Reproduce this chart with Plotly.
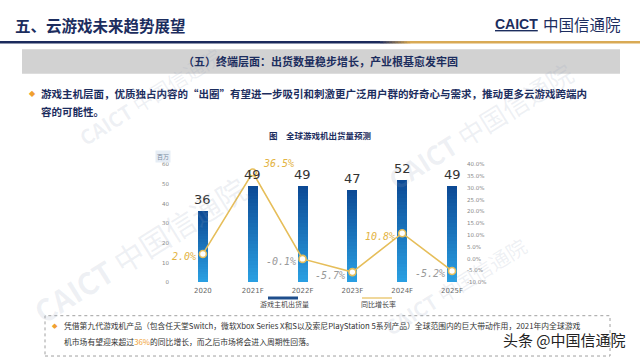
import plotly.graph_objects as go

# ---------------- data ----------------
categories = ["2020", "2021F", "2022F", "2023F", "2024F", "2025F"]
shipments = [36, 49, 49, 47, 52, 49]          # 百万台
growth = [2.0, 36.5, -0.1, -5.7, 10.8, -5.2]  # 同比增长率 %
left_ticks = [0, 10, 20, 30, 40, 50, 60]
right_ticks = [-10, -5, 0, 5, 10, 15, 20, 25, 30, 35, 40]

W, H = 640, 360
CJK = "Noto Sans CJK SC"
NAVY = "#1C2D5E"
GOLD = "#E6BE5A"


def px(x):
    return x / W


def py(y):
    return 1 - y / H


def lerp(c1, c2, t):
    a = [int(c1[i:i + 2], 16) for i in (1, 3, 5)]
    b = [int(c2[i:i + 2], 16) for i in (1, 3, 5)]
    return "rgb(%d,%d,%d)" % tuple(round(a[k] + (b[k] - a[k]) * t) for k in range(3))


def txt(x, y, text, size, color, family=CJK, xa="center", ya="middle", **kw):
    d = dict(x=px(x), y=py(y), xref="paper", yref="paper", text=text, showarrow=False,
             xanchor=xa, yanchor=ya, font=dict(family=family, size=size, color=color))
    d.update(kw)
    return d


fig = go.Figure()

# gradient bars: each bar split into stacked slices of its own value
N = 28
bottom_c, top_c = "#2A9FE2", "#0C4A95"
for k in range(N):
    fig.add_trace(go.Bar(
        x=categories, y=[v / N for v in shipments],
        marker=dict(color=lerp(bottom_c, top_c, k / (N - 1)), line=dict(width=0)),
        width=0.2, showlegend=False, hoverinfo="skip"))

fig.add_trace(go.Scatter(
    x=categories, y=growth, yaxis="y2", mode="lines+markers",
    line=dict(color=GOLD, width=1.6),
    marker=dict(size=7, color="white", line=dict(color=GOLD, width=1.6)),
    showlegend=False, hoverinfo="skip"))

ann = []
shapes = []

# value labels on bars (x given as category index)
for i, v in enumerate(shipments):
    ann.append(dict(x=i, y=v, xref="x", yref="y", text=str(v), showarrow=False,
                    xanchor="center", yanchor="bottom", yshift=2,
                    font=dict(family="DejaVu Sans", size=13, color="#333333")))

# growth labels
for i, g in enumerate(growth):
    col = "#E3B444" if g > 0 else "#9A9A9A"
    if g > 30:
        a = dict(xanchor="left", xshift=8, yshift=9)
    else:
        a = dict(xanchor="right", xshift=-5, yshift=-3)
    ann.append(dict(x=i, y=g, xref="x", yref="y2", text="%.1f%%" % g, showarrow=False,
                    yanchor="middle",
                    font=dict(family="DejaVu Sans Mono", size=10, color=col, style="italic"),
                    **a))

# unit label
ann.append(txt(163, 156, "百万", 6, "#7A8AA0", bgcolor="#E6EDF5", borderpad=1))

# chart title
ann.append(txt(320, 134, "<b>图　全球游戏机出货量预测</b>", 8.5, NAVY))

# legend (manual)
shapes.append(dict(type="line", xref="paper", yref="paper", x0=px(268), x1=px(298),
                   y0=py(300), y1=py(300), line=dict(color="#1F4E8C", width=3)))
ann.append(txt(284, 306, "游戏主机出货量", 7, "#444444"))
shapes.append(dict(type="line", xref="paper", yref="paper", x0=px(362), x1=px(392),
                   y0=py(300), y1=py(300), line=dict(color=GOLD, width=1.2)))
ann.append(txt(378, 306, "同比增长率", 7, "#444444"))

# ---------------- slide header ----------------
ann.append(txt(13, 22, "<b>五、云游戏未来趋势展望</b>", 15.5, NAVY, xa="left"))
ann.append(txt(493, 21, "<b><u>CAICT</u></b>", 14, NAVY, family="Liberation Sans", xa="left"))
ann.append(txt(541, 21, "中国信通院", 15.5, NAVY, xa="left"))

# header rule: navy -> gold
shapes.append(dict(type="line", xref="paper", yref="paper", x0=0, x1=px(380),
                   y0=py(40), y1=py(40), line=dict(color="#1B2A5C", width=2.5)))
steps = 10
for i in range(steps):
    x0 = 380 + i * 3
    shapes.append(dict(type="line", xref="paper", yref="paper", x0=px(x0), x1=px(x0 + 3.2),
                       y0=py(40), y1=py(40),
                       line=dict(color=lerp("#1B2A5C", "#D6A54C", (i + 0.5) / steps), width=2.5)))
shapes.append(dict(type="line", xref="paper", yref="paper", x0=px(410), x1=1,
                   y0=py(40), y1=py(40), line=dict(color="#D9AA55", width=2.5)))

# gray band
shapes.append(dict(type="rect", xref="paper", yref="paper", x0=px(22), x1=px(620),
                   y0=py(72), y1=py(47), fillcolor="#D2D2D2", line=dict(width=0), layer="below"))
ann.append(txt(320, 59, "<b>（五）终端层面：出货数量稳步增长，产业根基愈发牢固</b>", 11, NAVY))

# bullet
ann.append(txt(32, 92, "◆", 8, "#F0A030", family="DejaVu Sans"))
ann.append(txt(39, 92,
               "<b>游戏主机层面，优质独占内容的“出圈”有望进一步吸引和刺激更广泛用户群的好奇心与需求，推动更多云游戏跨端内</b>",
               10.5, NAVY, xa="left"))
ann.append(txt(39, 110, "<b>容的可能性。</b>", 10.5, NAVY, xa="left"))

# bottom note box
shapes.append(dict(type="rect", xref="paper", yref="paper", x0=px(45), x1=px(610),
                   y0=py(359), y1=py(318), line=dict(color="#A0A0A0", width=1, dash="dot")))
ann.append(txt(55, 328, "◆", 7, "#F0A030", family="DejaVu Sans"))
ann.append(txt(62, 328,
               "凭借第九代游戏机产品（包含任天堂Switch，微软Xbox Series X和S以及索尼PlayStation 5系列产品）全球范围内的巨大带动作用，2021年内全球游戏",
               7.8, "#333333", xa="left"))
ann.append(txt(62, 344,
               "机市场有望迎来超过<span style='color:#F0A030'>36%</span>的同比增长，而之后市场将会进入周期性回落。",
               7.8, "#333333", xa="left"))
ann.append(txt(628, 342, "头条 @中国信通院", 15, "#222222", xa="right"))

# faint diagonal watermarks
for (wx, wy, s) in [(140, 250, 30), (480, 125, 26), (150, 95, 20), (455, 288, 20)]:
    ann.append(txt(wx, wy, "<b>CAICT</b> 中国信通院", s, "rgba(150,165,190,0.16)",
                   textangle=-32))

fig.update_layout(
    width=W, height=H, margin=dict(l=0, r=0, t=0, b=0),
    paper_bgcolor="white", plot_bgcolor="white",
    barmode="stack", bargap=0,
    showlegend=False,
    xaxis=dict(domain=[px(178), px(463)], range=[-0.5, 5.22], type="category",
               showgrid=False, showline=False, zeroline=False, ticks="",
               ticklabelstandoff=3,
               tickfont=dict(family="DejaVu Sans", size=7, color="#666666")),
    yaxis=dict(domain=[py(284), py(164)], range=[0, 60], tickvals=left_ticks,
               showgrid=False, zeroline=False, showline=False, ticks="",
               ticklabelstandoff=8,
               tickfont=dict(family="DejaVu Sans", size=5.5, color="#888888")),
    yaxis2=dict(overlaying="y", side="right", range=[-10, 40], tickvals=right_ticks,
                ticktext=["%.1f%%" % t for t in right_ticks],
                showgrid=False, zeroline=False, showline=False, ticks="",
                ticklabelstandoff=3,
                tickfont=dict(family="DejaVu Sans", size=5.5, color="#888888")),
    annotations=ann, shapes=shapes,
)

fig.write_html("out.html")
